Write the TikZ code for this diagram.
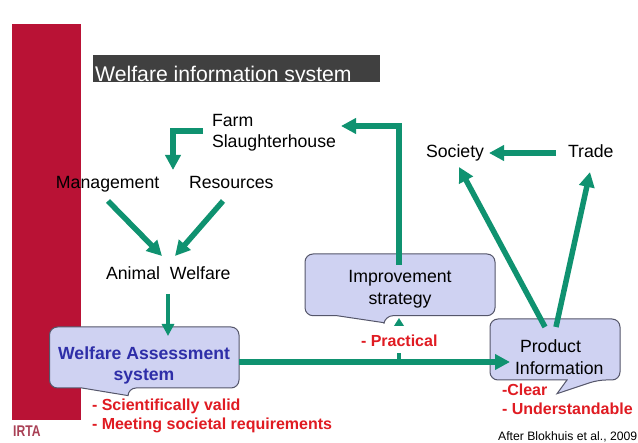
\documentclass[tikz,border=0pt]{standalone}
\usepackage{fontspec}
\setmainfont{Liberation Sans}
\usetikzlibrary{arrows.meta}
\definecolor{irtared}{HTML}{B91235}
\definecolor{titlegrey}{HTML}{404040}
\definecolor{flowgreen}{HTML}{0F9270}
\definecolor{calloutfill}{HTML}{CFD2F2}
\definecolor{calloutline}{HTML}{55566A}
\definecolor{reqred}{HTML}{E01B22}
\definecolor{assessblue}{HTML}{2E2EA8}
\definecolor{logored}{HTML}{A94055}
\tikzset{
  lbl/.style={anchor=base west,inner sep=0pt,outer sep=0pt,text=black,font=\fontsize{17.7}{20}\selectfont},
  lblc/.style={lbl,anchor=base},
  req/.style={anchor=base west,inner sep=0pt,outer sep=0pt,text=reqred,font=\fontsize{16}{18}\selectfont\bfseries},
  callout/.style={draw=calloutline,fill=calloutfill,line width=1pt},
  flow/.style={draw=flowgreen,line width=5.5pt,-{Triangle[length=15pt,width=15pt]}},
  flowsmall/.style={draw=flowgreen,line width=4pt,-{Triangle[length=12pt,width=12pt]}},
  flowtiny/.style={draw=flowgreen,line width=3.5pt,-{Triangle[length=8pt,width=9.5pt]}},
}
\begin{document}
\begin{tikzpicture}[x=1pt,y=-1pt]
\useasboundingbox (0,0) rectangle (638,443);
\fill[white] (0,0) rectangle (638,443);
\fill[irtared] (12,24) rectangle (81,420);
% title
\fill[titlegrey] (92.5,55) rectangle (380,82);
\begin{scope}
\clip (92.5,55) rectangle (380,82);
\node[anchor=base west,inner sep=0pt,text=white,font=\fontsize{21.2}{24}\selectfont] (title) at (95,81.5) {Welfare information system};
\end{scope}
% callouts
\draw[callout] (150,327) [rounded corners=8pt] -- (239,327) -- (239,388) -- (128,388) [sharp corners] -- (128,395.6) -- (82,388) [rounded corners=8pt] -- (49.5,388) -- (49.5,327) -- cycle;
\draw[callout] (400,254) [rounded corners=8pt] -- (495,254) -- (495,315.7) -- (385,315.7) [sharp corners] -- (384,322.7) -- (337,315.7) [rounded corners=8pt] -- (305,315.7) -- (305,254) -- cycle;
\draw[callout] (555,319) [rounded corners=8pt] -- (620,319) -- (620,380) -- (598,380) [sharp corners] -- (557,393.7) -- (567,380) [rounded corners=8pt] -- (490,380) -- (490,319) -- cycle;
% connector end points
\coordinate (farmOut) at (203,131);
\coordinate (farmBend) at (173,131);
\coordinate (farmIn) at (173,170);
\coordinate (mgmtOut) at (108,201);
\coordinate (resOut) at (223,201);
\coordinate (awInA) at (162,256);
\coordinate (awInB) at (175,256);
\coordinate (awOut) at (168,294);
\coordinate (waIn) at (168,336);
\coordinate (waOut) at (239,362);
\coordinate (piIn) at (510,362);
\coordinate (prOut) at (399,362);
\coordinate (isIn) at (399,318);
\coordinate (isOut) at (399,265);
\coordinate (isBend) at (399,126);
\coordinate (slIn) at (341,126);
\coordinate (piOutA) at (545,327);
\coordinate (socIn) at (459,167);
\coordinate (piOutB) at (556,327);
\coordinate (trIn) at (590,172);
\coordinate (trOut) at (556,153);
\coordinate (socRight) at (489,153);
% connectors
\draw[flow] (farmOut) -- (farmBend) -- (farmIn);
\draw[flow] (mgmtOut) -- (awInA);
\draw[flow] (resOut) -- (awInB);
\draw[flowsmall] (awOut) -- (waIn);
\draw[flow] (isOut) -- (isBend) -- (slIn);
\draw[flow] (waOut) -- (piIn);
\draw[flowtiny] (prOut) -- (isIn);
\draw[flow] (piOutA) -- (socIn);
\draw[flow] (piOutB) -- (trIn);
\draw[flow] (trOut) -- (socRight);
% practical label masks the stem
\fill[white] (355,326.5) rectangle (445,353);
\node[req] (practical) at (361,346.5) {- Practical};
% labels
\node[lbl] (farm) at (212,127) {Farm};
\node[lbl] (slaughter) at (212,148) {Slaughterhouse};
\node[lbl] (management) at (56,188.5) {Management};
\node[lbl] (resources) at (189,189) {Resources};
\node[lbl] (animal) at (106,280) {Animal\ \ Welfare};
\node[lbl] (society) at (426,158) {Society};
\node[lbl] (trade) at (568,158) {Trade};
\node[lblc] (improvement) at (400,283) {Improvement};
\node[lblc] (strategy) at (400,304.5) {strategy};
\node[lbl] (product) at (520,353) {Product};
\node[lbl] (information) at (515,374.5) {Information};
\node[anchor=base west,inner sep=0pt,text=assessblue,font=\fontsize{17.6}{20}\selectfont\bfseries] (wa) at (58,359.5) {Welfare Assessment};
\node[anchor=base,inner sep=0pt,text=assessblue,font=\fontsize{17.6}{20}\selectfont\bfseries] (sys) at (144,381) {system};
\node[req] (sci) at (92,411) {- Scientifically valid};
\node[req] (meet) at (92,430) {- Meeting societal requirements};
\node[req] (clear) at (502,396) {-Clear};
\node[req] (under) at (502,415) {- Understandable};
\node[anchor=base west,inner sep=0pt,font=\fontsize{12.2}{14}\selectfont] (after) at (498,440.5) {After Blokhuis et al., 2009};
\node[anchor=base west,inner sep=0pt,text=logored,font=\fontsize{15.5}{16}\selectfont\bfseries] (irta) at (13,437) {\scalebox{0.78}[1]{IRTA}};
\end{tikzpicture}
\end{document}
